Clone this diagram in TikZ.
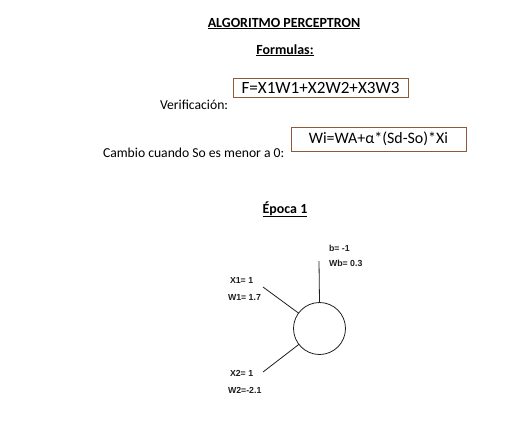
\documentclass[tikz,border=0pt]{standalone}
\usepackage{fontspec}
\setmainfont{Carlito}
\newfontfamily\lblfont{Liberation Sans}
\definecolor{boxbrown}{RGB}{140,92,58}
\definecolor{inkgray}{RGB}{30,30,30}
\begin{document}
\begin{tikzpicture}[x=1bp,y=-1bp,
  every node/.style={inner sep=0pt, outer sep=0pt},
  heading/.style={anchor=base, font=\fontsize{14}{16}\selectfont\bfseries},
  body/.style={anchor=base west, font=\fontsize{13.7}{15}\selectfont},
  formulabox/.style={draw=boxbrown, line width=1bp, anchor=base, minimum width=175bp},
  wlabel/.style={anchor=base west, text=inkgray, font=\fontsize{8.8}{10}\selectfont\lblfont\bfseries},
  wire/.style={draw=inkgray, line width=0.8bp},
  neuronstyle/.style={circle, draw=inkgray, line width=0.8bp, minimum size=52bp}
]
\useasboundingbox (0,0) rectangle (505,422);
% headings
\node[heading] (title) at (284,27) {\underline{ALGORITMO PERCEPTRON}};
\node[heading] (formulas) at (285,54) {\underline{Formulas:}};
% formula rows
\node[formulabox, text height=15bp, text depth=4bp, font=\fontsize{17.2}{19}\selectfont] (f1) at (320.5,93) {F=X1W1+X2W2+X3W3};
\node[body] (verif) at (160,109) {Verificación:};
\node[formulabox, text height=16bp, text depth=8bp, font=\fontsize{16}{18}\selectfont] (f2) at (378.5,143) {Wi=WA+α*(Sd-So)*Xi};
\node[body] (cambio) at (103,157) {Cambio cuando So es menor a 0:};
% epoch
\node[heading] (epoca) at (285,213) {\underline{Época 1}};
% neuron
\node[neuronstyle] (neuron) at (319.5,328.5) {};
\coordinate (bend) at (319,261);
\coordinate (x1end) at (263,287);
\coordinate (x2end) at (263,372);
\draw[wire] (bend) -- (neuron.north);
\draw[wire] (x1end) -- (neuron);
\draw[wire] (x2end) -- (neuron);
\node[wlabel] (blab) at (329,251) {b= -1};
\node[wlabel] (wblab) at (329,266) {Wb= 0.3};
\node[wlabel] (x1lab) at (230,283) {X1= 1};
\node[wlabel] (w1lab) at (228,300) {W1= 1.7};
\node[wlabel] (x2lab) at (230,376) {X2= 1};
\node[wlabel] (w2lab) at (228,393) {W2=-2.1};
\end{tikzpicture}
\end{document}
